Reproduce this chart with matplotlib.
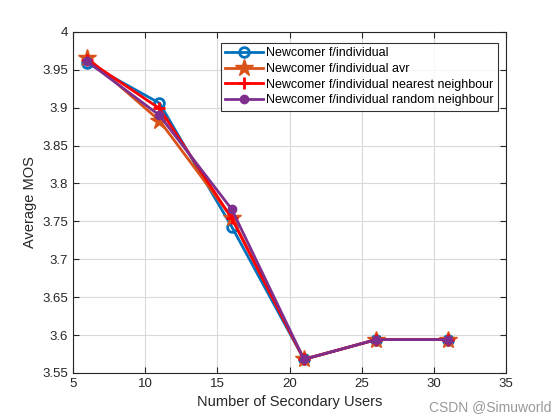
import matplotlib
matplotlib.use("Agg")
import matplotlib.pyplot as plt

plt.rcParams['font.family'] = ['Liberation Sans', 'DejaVu Sans']

users = [6, 11, 16, 21, 26, 31]
mos_individual = [3.959, 3.906, 3.743, 3.568, 3.594, 3.594]
mos_avr = [3.966, 3.883, 3.755, 3.568, 3.594, 3.594]
mos_nearest = [3.963, 3.899, 3.754, 3.568, 3.594, 3.594]
mos_random = [3.961, 3.890, 3.766, 3.568, 3.594, 3.594]
labels = ['Newcomer f/individual', 'Newcomer f/individual avr',
          'Newcomer f/individual nearest neighbour', 'Newcomer f/individual random neighbour']

fig = plt.figure(figsize=(5.6, 4.2), dpi=100)
ax = fig.add_axes([0.13, 0.112, 0.774, 0.812])

c_blue = (0, 0.447, 0.741)
c_orange = (0.85, 0.325, 0.098)
c_red = (1, 0, 0)
c_purple = (0.494, 0.184, 0.556)

ax.plot(users, mos_individual, '-o', color=c_blue, lw=2, ms=7, mfc='none', mew=2, label=labels[0])
ax.plot(users, mos_avr, '-*', color=c_orange, lw=2, ms=13, label=labels[1])
ax.plot(users, mos_nearest, '-+', color=c_red, lw=2, ms=8, mew=2, label=labels[2])
ax.plot(users, mos_random, '-o', color=c_purple, lw=2, ms=6, label=labels[3])

ax.set_xlim(5, 35)
ax.set_ylim(3.55, 4.0)
ax.set_xticks([5, 10, 15, 20, 25, 30, 35])
ax.set_yticks([3.55, 3.6, 3.65, 3.7, 3.75, 3.8, 3.85, 3.9, 3.95, 4.0])
ax.set_yticklabels(['3.55', '3.6', '3.65', '3.7', '3.75', '3.8', '3.85', '3.9', '3.95', '4'])
ax.grid(True, color=(0.85, 0.85, 0.85), lw=0.8)
ax.set_axisbelow(True)
ax.tick_params(direction='in', labelsize=9.5, colors=(0.15, 0.15, 0.15), top=True, right=True, length=4)
for s in ax.spines.values():
    s.set_color((0.15, 0.15, 0.15))
    s.set_linewidth(0.8)
ax.set_xlabel('Number of Secondary Users', fontsize=10.5, color=(0.15, 0.15, 0.15))
ax.set_ylabel('Average MOS', fontsize=10.5, color=(0.15, 0.15, 0.15))

leg = ax.legend(loc='upper right', bbox_to_anchor=(0.982, 0.968), fontsize=9, frameon=True,
                fancybox=False, edgecolor='black', borderpad=0.35, labelspacing=0.3,
                handlelength=3.0, handletextpad=0.3, borderaxespad=0)
leg.get_frame().set_linewidth(0.8)

fig.text(0.985, 0.015, 'CSDN @Simuworld', ha='right', va='bottom', fontsize=10, color=(0.6, 0.6, 0.6))

fig.savefig('out.png', dpi=100)
